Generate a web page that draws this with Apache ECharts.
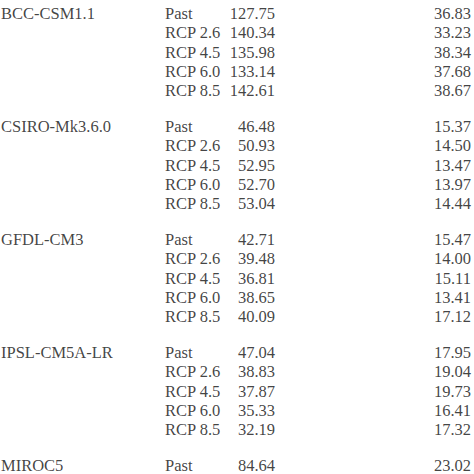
<!DOCTYPE html>
<html><head><meta charset="utf-8">
<script src="https://cdn.jsdelivr.net/npm/echarts@6/dist/echarts.min.js"></script>
<style>html,body{margin:0;background:#fff}#c{width:474px;height:474px}</style>
</head><body><div id="c"></div>
<script>
const models = ['BCC-CSM1.1', 'CSIRO-Mk3.6.0', 'GFDL-CM3', 'IPSL-CM5A-LR', 'MIROC5'];
const scenarios = ['Past', 'RCP 2.6', 'RCP 4.5', 'RCP 6.0', 'RCP 8.5'];
const colA = [
  ['127.75', '140.34', '135.98', '133.14', '142.61'],
  ['46.48', '50.93', '52.95', '52.70', '53.04'],
  ['42.71', '39.48', '36.81', '38.65', '40.09'],
  ['47.04', '38.83', '37.87', '35.33', '32.19'],
  ['84.64', '88.93']
];
const colB = [
  ['36.83', '33.23', '38.34', '37.68', '38.67'],
  ['15.37', '14.50', '13.47', '13.97', '14.44'],
  ['15.47', '14.00', '15.11', '13.41', '17.12'],
  ['17.95', '19.04', '19.73', '16.41', '17.32'],
  ['23.02', '30.98']
];

const GROUP = 5.84;
const font = {fontFamily: 'Liberation Serif', fontSize: 16.5, color: '#111'};
function rows(xPos, align, pick) {
  const out = [];
  colA.forEach((g, gi) => g.forEach((_, ri) => {
    const t = pick(gi, ri);
    if (t !== null) out.push({value: [xPos, gi * GROUP + ri], label: {formatter: t}});
  }));
  return {
    type: 'scatter', symbolSize: 0, silent: true, clip: false, data: out,
    label: Object.assign({show: true, position: align === 'left' ? 'right' : 'left', distance: 0}, font)
  };
}
const chart = echarts.init(document.getElementById('c'), null, {renderer: 'svg'});
chart.setOption({
  animation: false,
  backgroundColor: '#fff',
  grid: {left: 0, right: 0, top: 0, bottom: 0},
  xAxis: {type: 'value', min: 0, max: 474, show: false},
  yAxis: {type: 'value', inverse: true, min: -0.7, max: 23.8, show: false},
  series: [
    rows(1, 'left', (g, r) => r === 0 ? models[g] : null),
    rows(165, 'left', (g, r) => scenarios[r]),
    rows(275, 'right', (g, r) => colA[g][r]),
    rows(471, 'right', (g, r) => colB[g][r])
  ]
});
</script></body></html>
